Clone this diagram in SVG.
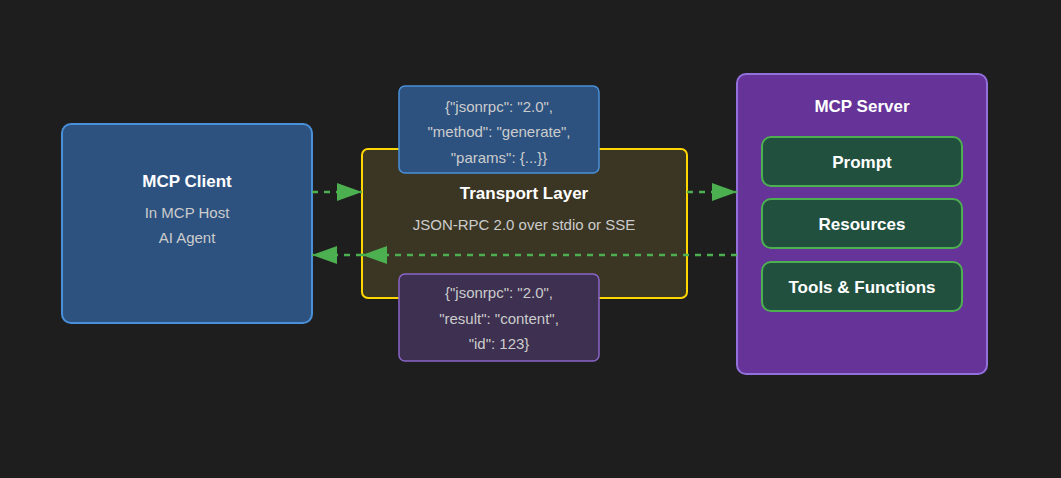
<svg xmlns="http://www.w3.org/2000/svg" width="1061" height="478" viewBox="0 0 1061 478">
<style>
text{font-family:"Liberation Sans",Arial,sans-serif;text-anchor:middle}
.t{font-size:17px;font-weight:bold;fill:#ffffff}
.s{font-size:15px;fill:#cccccc}
.c{stroke:#4caf50;stroke-width:2.5;stroke-dasharray:6,6;fill:none}
</style>
<defs>
<marker id="a" viewBox="0 0 25 18" refX="25" refY="9" markerWidth="25" markerHeight="18" markerUnits="userSpaceOnUse" orient="auto">
<path d="M0,0 L25,9 L0,18 z" fill="#4caf50"/>
</marker>
</defs>
<rect width="1061" height="478" fill="#1e1e1e"/>
<g id="client">
<rect x="62" y="124" width="250" height="199" rx="9" fill="#2d5280" stroke="#4a90d9" stroke-width="2"/>
<text class="t" x="187" y="187">MCP Client</text>
<text class="s" x="187" y="218">In MCP Host</text>
<text class="s" x="187" y="243">AI Agent</text>
</g>
<g id="transport">
<rect x="362" y="149" width="325" height="149" rx="6" fill="#3b3523" stroke="#ffd700" stroke-width="2"/>
<text class="t" x="524" y="199">Transport Layer</text>
<text class="s" x="524" y="230">JSON-RPC 2.0 over stdio or SSE</text>
</g>
<g id="server">
<rect x="737" y="74" width="250" height="300" rx="9" fill="#663399" stroke="#9370db" stroke-width="2"/>
<text class="t" x="862" y="112">MCP Server</text>
</g>
<g id="prompt">
<rect x="762" y="137" width="200" height="49" rx="9" fill="#22503f" stroke="#4caf50" stroke-width="2"/>
<text class="t" x="862" y="168">Prompt</text>
</g>
<g id="resources">
<rect x="762" y="199" width="200" height="49" rx="9" fill="#22503f" stroke="#4caf50" stroke-width="2"/>
<text class="t" x="862" y="230">Resources</text>
</g>
<g id="tools">
<rect x="762" y="262" width="200" height="49" rx="9" fill="#22503f" stroke="#4caf50" stroke-width="2"/>
<text class="t" x="862" y="293">Tools &amp; Functions</text>
</g>
<g id="connectors">
<line class="c" x1="312" y1="192" x2="362" y2="192" marker-end="url(#a)"/>
<line class="c" x1="687" y1="192" x2="737" y2="192" marker-end="url(#a)"/>
<line class="c" x1="737" y1="255" x2="362" y2="255" marker-end="url(#a)"/>
<line class="c" x1="362" y1="255" x2="312" y2="255" marker-end="url(#a)"/>
</g>
<g id="request">
<rect x="399" y="86" width="200" height="87" rx="6" fill="#2d5280" stroke="#4a90d9" stroke-width="1.5"/>
<text class="s" x="499" y="112">{"jsonrpc": "2.0",</text>
<text class="s" x="499" y="137">"method": "generate",</text>
<text class="s" x="499" y="163">"params": {...}}</text>
</g>
<g id="response">
<rect x="399" y="274" width="200" height="87" rx="6" fill="#3d3050" stroke="#8a64c8" stroke-width="1.5"/>
<text class="s" x="499" y="298">{"jsonrpc": "2.0",</text>
<text class="s" x="499" y="324">"result": "content",</text>
<text class="s" x="499" y="349">"id": 123}</text>
</g>
</svg>
